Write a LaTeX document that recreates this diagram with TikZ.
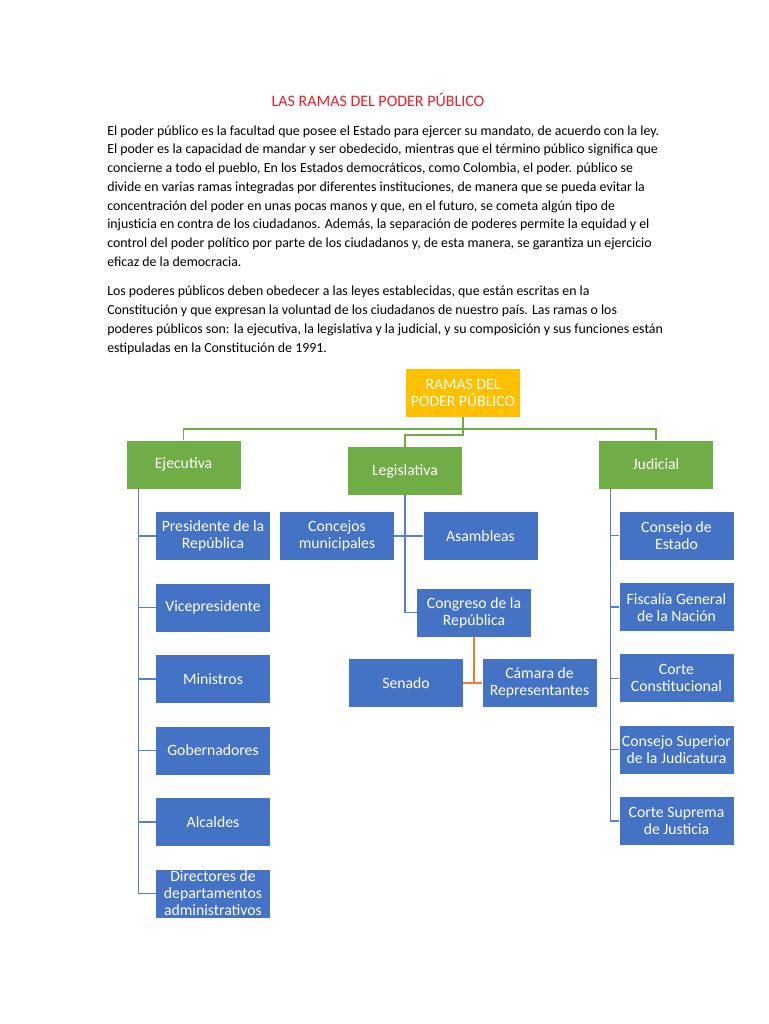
\documentclass[tikz,border=0pt]{standalone}
\usepackage{fontspec}
\setmainfont{Carlito}
\usetikzlibrary{positioning,calc}

\definecolor{ramablue}{HTML}{4472C4}
\definecolor{ramagreen}{HTML}{70AD47}
\definecolor{ramagold}{HTML}{FFC000}
\definecolor{ramaorange}{HTML}{ED7D31}
\definecolor{titlered}{HTML}{E8202A}

\tikzset{
  every box/.style={minimum width=85.5pt, minimum height=36pt, inner xsep=1pt, inner ysep=1pt,
    align=center, text=white, font=\fontsize{11.8}{12.75}\selectfont},
  gold box/.style={every box, fill=ramagold},
  green box/.style={every box, fill=ramagreen},
  blue box/.style={every box, fill=ramablue},
  green link/.style={draw=ramagreen, line width=1.1pt},
  blue link/.style={draw=ramablue!90!white, line width=1pt},
  orange link/.style={draw=ramaorange, line width=1.1pt},
  body/.style={anchor=base west, inner sep=0pt, font=\fontsize{10.4}{14}\selectfont}
}

\begin{document}
\begin{tikzpicture}[x=0.75pt, y=-0.75pt]

\fill [white] (0,0) rectangle (768,1024);
\useasboundingbox (0,0) rectangle (768,1024);

% title and text
\node [anchor=base, inner sep=0pt, text=titlered, font=\fontsize{12}{14}\selectfont] (title) at (378,106.5)
  {LAS RAMAS DEL PODER PÚBLICO};

\foreach \t [count=\i] in {
  {El poder público es la facultad que posee el Estado para ejercer su mandato, de acuerdo con la ley.},
  {El poder es la capacidad de mandar y ser obedecido, mientras que el término público significa que},
  {concierne a todo el pueblo, En los Estados democráticos, como Colombia, el poder. público se},
  {divide en varias ramas integradas por diferentes instituciones, de manera que se pueda evitar la},
  {concentración del poder en unas pocas manos y que, en el futuro, se cometa algún tipo de},
  {injusticia en contra de los ciudadanos. Además, la separación de poderes permite la equidad y el},
  {control del poder político por parte de los ciudadanos y, de esta manera, se garantiza un ejercicio},
  {eficaz de la democracia.}}
  \node [body] (par1-\i) at (107,116.25+\i*18.75) {\t};

\foreach \t [count=\i] in {
  {Los poderes públicos deben obedecer a las leyes establecidas, que están escritas en la},
  {Constitución y que expresan la voluntad de los ciudadanos de nuestro país. Las ramas o los},
  {poderes públicos son: la ejecutiva, la legislativa y la judicial, y su composición y sus funciones están},
  {estipuladas en la Constitución de 1991.}}
  \node [body] (par2-\i) at (107,276+\i*19) {\t};

% chart
\node [gold box] (rama) at (463,393) {RAMAS DEL\\PODER PÚBLICO};
\node [green box] (eje) at (183.5,464.5) {Ejecutiva};
\node [green box] (leg) at (405,471) {Legislativa};
\node [green box] (jud) at (656,464.5) {Judicial};

\coordinate (bus) at (rama.south |- 0,429);
\draw [green link] (rama.south) -- (bus) -| (eje.north);
\draw [green link] (bus) -| (jud.north);
\draw [green link] (bus) -- ++(0,6) -| (leg.north);

% ejecutiva
\foreach \t [count=\i] in {{Presidente de la\\República}, Vicepresidente, Ministros,
    Gobernadores, Alcaldes, {Directores de\\departamentos\\administrativos}}
  \node [blue box] (eje-\i) at (213,464.5+\i*71.5) {\t};

\coordinate (eje-spine) at ($(eje.south west)+(12,0)$);
\foreach \i in {1,...,6}
  \draw [blue link] (eje-spine) |- (eje-\i.west);

% judicial
\foreach \t [count=\i] in {{Consejo de\\Estado}, {Fiscalía General\\de la Nación}, {Corte\\Constitucional},
    {Consejo Superior\\de la Judicatura}, {Corte Suprema\\de Justicia}}
  \node [blue box] (jud-\i) at (676.5,464.5+\i*71.3) {\t};

\coordinate (jud-spine) at ($(jud.south west)+(12,0)$);
\foreach \i in {1,...,5}
  \draw [blue link] (jud-spine) |- (jud-\i.west);

% legislativa
\node [blue box] (concejos) at (337,536) {Concejos\\municipales};
\node [blue box] (asambleas) at (480.5,536) {Asambleas};
\node [blue box] (congreso) at (474,612.5) {Congreso de la\\República};
\node [blue box] (senado) at (406,683) {Senado};
\node [blue box] (camara) at (539.5,683) {Cámara de\\Representantes};

\draw [blue link] (leg.south) |- (congreso.west);
\draw [blue link] (concejos.east) -- (asambleas.west);
\draw [orange link] (congreso.south) -- (congreso.south |- senado.east);
\draw [orange link] (senado.east) -- (camara.west);

\end{tikzpicture}
\end{document}
